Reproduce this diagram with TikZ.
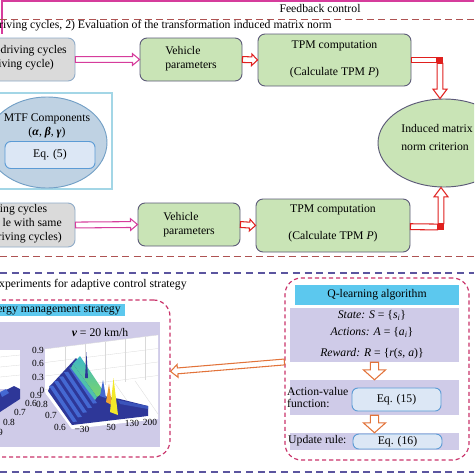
\documentclass[tikz,border=0pt]{standalone}
\usepackage{fontspec}
\setmainfont{Liberation Serif}
\usetikzlibrary{shapes.geometric,calc}

\definecolor{boxgreen}{HTML}{C9E4B6}
\definecolor{boxedge}{HTML}{5C5A78}
\definecolor{boxgray}{HTML}{DADADA}
\definecolor{grayedge}{HTML}{8FABC8}
\definecolor{mtffill}{HTML}{BFD2E3}
\definecolor{mtfedge}{HTML}{73A0C6}
\definecolor{mtfframe}{HTML}{A3D6E6}
\definecolor{eqfill}{HTML}{DCE7F5}
\definecolor{eqedge}{HTML}{5B9BD5}
\definecolor{pinkline}{HTML}{D63C9C}
\definecolor{redline}{HTML}{E0201E}
\definecolor{orline}{HTML}{E2733A}
\definecolor{brownsep}{HTML}{AE5252}
\definecolor{purplesep}{HTML}{5B559F}
\definecolor{crimson}{HTML}{C9336A}
\definecolor{cyanbar}{HTML}{5CC8EE}
\definecolor{lavender}{HTML}{CFCBE8}
\definecolor{bardark}{HTML}{2E3798}
\definecolor{barblue}{HTML}{4468D2}
\definecolor{barcyan}{HTML}{3DB8C9}
\definecolor{bargreen}{HTML}{7AD66A}
\definecolor{baryellow}{HTML}{F2E829}
\definecolor{barorange}{HTML}{F0A431}

\tikzset{
  boxsize/.style 2 args={minimum width={#1*0.03cm}, minimum height={#2*0.03cm}, inner sep=0pt},
  gbox/.style={draw=boxedge, fill=boxgreen, line width=0.8pt, rounded corners=6pt},
  graybox/.style={draw=grayedge, fill=boxgray, line width=0.8pt, rounded corners=6pt},
  eqbox/.style={draw=eqedge, fill=eqfill, line width=0.8pt, rounded corners=5pt},
  panel/.style={fill=lavender},
  cyanlabel/.style={fill=cyanbar},
  dashbox/.style={draw=crimson, line width=1pt, dash pattern=on 3.5pt off 2.5pt, rounded corners=14pt},
  brownline/.style={draw=brownsep, line width=0.8pt, dash pattern=on 6pt off 3.5pt},
  purpleline/.style={draw=purplesep, line width=0.9pt, dash pattern=on 6pt off 4pt},
  pinkarrow/.style={draw=pinkline, fill=white, line width=0.9pt},
  redarrow/.style={draw=redline, fill=white, line width=0.9pt},
  orarrow/.style={draw=orline, fill=white, line width=0.9pt},
  gridline/.style={draw=gray!30, line width=0.25pt},
  axlabel/.style={font=\fontsize{8}{9}\selectfont, inner sep=0pt}
}

% hollow block arrow: style, from, to, half shaft, half head, head length
\newcommand\blockarrow[6]{%
  \draw[#1] let \p1=(#2), \p2=(#3),
      \n1={veclen(\x2-\x1,\y2-\y1)},
      \n2={(\x2-\x1)/\n1}, \n3={(\y2-\y1)/\n1}
    in ({\x1-(\n3)*(#4)},{\y1+(\n2)*(#4)})
    -- ({\x2-(\n2)*(#6)-(\n3)*(#4)},{\y2-(\n3)*(#6)+(\n2)*(#4)})
    -- ({\x2-(\n2)*(#6)-(\n3)*(#5)},{\y2-(\n3)*(#6)+(\n2)*(#5)})
    -- (\x2,\y2)
    -- ({\x2-(\n2)*(#6)+(\n3)*(#5)},{\y2-(\n3)*(#6)-(\n2)*(#5)})
    -- ({\x2-(\n2)*(#6)+(\n3)*(#4)},{\y2-(\n3)*(#6)-(\n2)*(#4)})
    -- ({\x1+(\n3)*(#4)},{\y1-(\n2)*(#4)}) -- cycle;}

\begin{document}
\begin{tikzpicture}[x=0.03cm, y=-0.03cm, font=\fontsize{10}{12}\selectfont]
\useasboundingbox (0,0) rectangle (474,474);
\clip (0,0) rectangle (474,474);

%feedback
\coordinate (fbend) at (2,34);
\draw[draw=pinkline, line width=2pt] (480,1) -- (2,1) -- (fbend);
\node (fbtext) at (320,8) {Feedback control};
\draw[brownline] (0,19) -- (474,19);
\node[anchor=west, inner sep=0pt] (evaltext) at (-1,26) {riving cycles, 2) Evaluation of the transformation induced matrix norm};

%first row
\node[graybox, boxsize={110}{43}] (gen1) at (20,59.5) {};
\node[anchor=east, align=right, inner sep=0pt] (gen1txt) at (67,58) {-driving cycles\\iving cycle)\hspace*{11pt}};
\node[gbox, boxsize={102}{43}] (veh1) at (191,59.5) {};
\node[align=left] (veh1txt) at (191,58.5) {Vehicle\\parameters};
\node[gbox, boxsize={153}{52}] (tpm1) at (334.5,60) {};
\node[align=center] (tpm1txt) at (334.5,59.5) {TPM computation\\[11pt](Calculate TPM \textit{P})};
\node[fill=redline, minimum size=5.5pt, inner sep=0pt] (jn1) at (440,60) {};

%criterion
\node[ellipse, draw=boxedge, fill=boxgreen, line width=0.8pt, boxsize={132}{88}] (crit) at (444,143) {};
\node[align=left] (crittxt) at (437,137.5) {Induced matrix\\[4pt]norm criterion};

%mtf
\node[draw=mtfframe, line width=0.9pt, boxsize={122}{96}] (mtf) at (51,141) {};
\node[ellipse, draw=mtfedge, fill=mtffill, line width=0.8pt, boxsize={120}{91}] (mtfell) at (47,142.5) {};
\node[align=center] (mtftxt) at (47,125.5) {MTF Components\\(\textbf{\textit{α}}, \textbf{\textit{β}}, \textbf{\textit{γ}})};
\node[eqbox, boxsize={90}{27}] (eq5) at (50,155) {Eq. (5)};

%second row
\node[graybox, boxsize={110}{44}] (gen2) at (20,225) {};
\node[anchor=east, align=right, inner sep=0pt] (gen2txt) at (62,224) {ing cycles\hspace*{12.5pt}\\le with same\hspace*{2.5pt}\\riving cycles)};
\node[gbox, boxsize={102}{43}] (veh2) at (189,224.5) {};
\node[align=left] (veh2txt) at (189,224.5) {Vehicle\\parameters};
\node[gbox, boxsize={154}{53}] (tpm2) at (333,225.5) {};
\node[align=center] (tpm2txt) at (333,223.5) {TPM computation\\[11pt](Calculate TPM \textit{P})};
\node[fill=redline, minimum size=5.5pt, inner sep=0pt] (jn2) at (441,227) {};

%arrows upper part
\blockarrow{pinkarrow}{gen1.east}{veh1.west}{2.5pt}{5pt}{6pt}
\blockarrow{redarrow}{veh1.east}{tpm1.west}{2.5pt}{5pt}{5pt}
\blockarrow{redarrow}{tpm1.east}{jn1.west}{2.5pt}{2.5pt}{0pt}
\blockarrow{redarrow}{jn1.south}{jn1 |- crit.north}{2.5pt}{6pt}{8pt}
\blockarrow{pinkarrow}{gen2.east}{veh2.west}{2.5pt}{5pt}{6pt}
\blockarrow{redarrow}{veh2.east}{tpm2.west}{2.5pt}{5pt}{5pt}
\blockarrow{redarrow}{[yshift=-1pt]tpm2.east}{jn2.west}{2.5pt}{2.5pt}{0pt}
\blockarrow{redarrow}{jn2.north}{jn2 |- crit.south}{2.5pt}{6pt}{8pt}

\draw[brownline] (0,256) -- (474,256);
\draw[purpleline] (0,273) -- (474,273);
\node[anchor=west, inner sep=0pt] (exptext) at (-1,285) {xperiments for adaptive control strategy};

%energy management
\node[dashbox, boxsize={200}{157}] (ems) at (70,378.5) {};
\node[cyanlabel, boxsize={132}{12}] (emslabel) at (59,310) {ergy management strategy};
\node[panel, boxsize={168}{125}] (emspanel) at (76,384.5) {};
\node (vlabel) at (100,332) {\textbf{\textit{v}} = 20 km/h};

% left plot (cut)
\fill[white] (0,350) rectangle (20,389);
\foreach \gy in {357,367,377} \draw[gridline] (0,\gy) -- (20,\gy-2);
\fill[bardark] (0,393) -- (14,386) -- (20,389) -- (20,399) -- (0,412) -- cycle;
\fill[barblue] (0,392) -- (6,389) -- (9,393) -- (2,397) -- cycle;
\node[axlabel] (la6) at (31,403) {0.6};
\node[axlabel] (la7) at (20,412) {0.7};
\node[axlabel] (la8) at (9,422) {0.8};
\node[axlabel] (la9) at (-3,432) {0.9};

% main plot
\fill[white] (45,349) -- (158,335) -- (158,419) -- (72,429) -- (45,392) -- cycle;
\foreach \gz in {0,13.5,27,40.5} \draw[gridline] (45,349+\gz) -- (158,335+\gz);
\foreach \gx in {65,85,...,145} \draw[gridline] (\gx,{349-(\gx-45)*0.124}) -- (\gx,{392-(\gx-45)*0.124});
\foreach \gx in {95,115,135} \draw[gridline] (\gx,{392-(\gx-45)*0.124}) -- ++(25,36);
\fill[bardark] (48,391) -- (50,386) -- (76,358) -- (104,396) -- (120,399) -- (148,406) -- (148,416) -- (72,425) -- cycle;
\foreach \i/\h in {0/3,1/7,2/11,3/15,4/19}
  \fill[barblue] ({49+5*\i},{389-0.6*\i-\h}) -- ++(4,-0.5) -- ++(24,36) -- ++(-4,0.5) -- cycle;
\shade[top color=barcyan, bottom color=bargreen] (73,364) -- (80,356) -- (104,392) -- (97,397) -- cycle;
\fill[barcyan!70!bargreen] (73,364) -- (97,397) -- (95,400) -- (71,368) -- cycle;
\fill[bardark] (85,378) -- (86.5,352) -- (88,378) -- cycle;
\fill[barblue] (100,396) -- (103,380) -- (106,398) -- cycle;
\fill[barorange] (106,402) -- (109,384) -- (112,405) -- cycle;
\fill[baryellow] (110,412) -- (113.5,378) -- (118,415) -- cycle;
\fill[barblue!60!bardark] (118,400) -- (148,406) -- (148,409) -- (120,404) -- cycle;
\draw[white, line width=1pt] (46,393) -- (72,428) -- (148,417);
\node[axlabel] (za9) at (38,350) {0.9};
\node[axlabel] (za6) at (38,363) {0.6};
\node[axlabel] (za3) at (38,377) {0.3};
\node[axlabel] (za0) at (42,390) {0};
\node[axlabel] (ya9) at (36,395) {0.9};
\node[axlabel] (ya8) at (42,404) {0.8};
\node[axlabel] (ya7) at (51,415) {0.7};
\node[axlabel] (ya6) at (60,427) {0.6};
\node[axlabel] (xa1) at (82,429) {−30};
\node[axlabel] (xa2) at (111,427) {50};
\node[axlabel] (xa3) at (132,423) {130};
\node[axlabel] (xa4) at (150,422) {200};

%q-learning
\node[dashbox, boxsize={184}{182}] (qbox) at (377,369) {};
\node[cyanlabel, boxsize={164}{20}] (qlabel) at (377,295) {Q-learning algorithm};
\node[panel, boxsize={169}{54}] (qpanel) at (374.5,335) {};
\node[align=center] (qtxt) at (372,335) {\textit{State: S} = \{\textit{s}\textsubscript{\textit{i}}\}\\[2.5pt]
  \textit{Actions: A} = \{\textit{a}\textsubscript{\textit{i}}\}\\[6pt]
  \textit{Reward: R} = \{\textit{r}(\textit{s}, \textit{a})\}};
\node[panel, boxsize={169}{35}] (avpanel) at (374.5,397.5) {};
\node[anchor=west, align=left, inner sep=0pt, font=\fontsize{10}{11}\selectfont] (avtxt) at (287,397.5) {Action-value\\function:};
\node[eqbox, boxsize={89}{23}] (eq15) at (396.5,399.5) {Eq. (15)};
\node[panel, boxsize={169}{17}] (urpanel) at (374.5,441.5) {};
\node[anchor=west, inner sep=0pt] (urtxt) at (288,441) {Update rule:};
\node[eqbox, boxsize={89}{15}] (eq16) at (397.5,441.5) {Eq. (16)};

%arrows lower part
\blockarrow{orarrow}{qpanel.south}{avpanel.north}{3.5pt}{9.5pt}{8.5pt}
\blockarrow{orarrow}{avpanel.south}{urpanel.north}{3.5pt}{9.5pt}{8.5pt}
\blockarrow{orarrow}{[yshift=6pt]qbox.west}{[yshift=6pt]ems.east}{2.5pt}{5.5pt}{6pt}

\draw[purpleline] (0,472) -- (474,472);
\end{tikzpicture}
\end{document}
